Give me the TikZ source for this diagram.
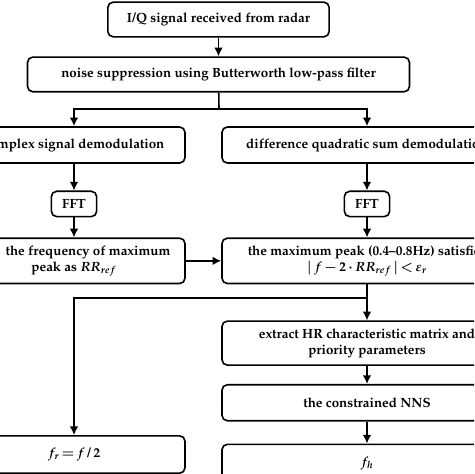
\documentclass[tikz,border=0pt]{standalone}
\usepackage[T1]{fontenc}
\usepackage{amsmath}
\usepackage{mathpazo}
\usetikzlibrary{arrows.meta,positioning}
\tikzset{step box/.style={rectangle,rounded corners=4pt,draw=black,fill=white,line width=1.2pt,align=center,font=\bfseries\boldmath,inner sep=2pt}}
\tikzset{wideBox/.style={step box,minimum width=217.5pt}}
\tikzset{leftBox/.style={step box,minimum width=166.5pt}}
\tikzset{fftBox/.style={step box,minimum width=34pt,minimum height=19pt}}
\tikzset{toArrow/.style={-{Latex[length=6.5pt,width=6.5pt]},line width=1.2pt}}

\begin{document}
\begin{tikzpicture}[x=0.75pt,y=-0.75pt]
\useasboundingbox (0,0) rectangle (474,474);
\clip (0,0) rectangle (474,474);
\begin{scope}[node distance=14pt]
	\node (radar) [step box, minimum width=166pt, minimum height=26pt] at (218.5,19.5) {I/Q signal received from radar} ;
	\node (filter) [step box, minimum width=286.5pt, minimum height=26pt, below =of radar] {noise suppression using Butterworth low-pass filter} ;
	\draw [toArrow] (radar) -- (filter) ;
	\coordinate (split) at (219,109) ;
	% left column
	\node (demodL) [leftBox, minimum height=27pt] at (74,145) {complex signal demodulation} ;
	\node (fftL) [fftBox, below =20pt of demodL] {FFT} ;
	\node (peakL) [leftBox, minimum height=34pt, below =15pt of fftL] {\hspace*{21pt}the frequency of maximum\\peak as $RR_{ref}$} ;
	\node (fr) [leftBox, minimum height=28pt] at (74,454.5) {$f_r\,{=}\,f\,/\,2$} ;
	% right column
	\node (demodR) [wideBox, minimum height=27pt] at (367,145) {difference quadratic sum demodulation} ;
	\node (fftR) [fftBox, below =20pt of demodR] {FFT} ;
	\node (peakR) [wideBox, minimum height=34pt, below =15pt of fftR] {the maximum peak (0.4--0.8Hz) satisfies\\$\lvert\,f\,{-}\,2\,{\cdot}\,RR_{ref}\,\rvert\,{<}\,\varepsilon_r$} ;
	\node (matrix) [wideBox, minimum height=33pt, below =27pt of peakR] {extract HR characteristic matrix and\\priority parameters} ;
	\node (nns) [wideBox, minimum height=27pt, below =13.5pt of matrix] {the constrained NNS} ;
	\node (fh) [wideBox, minimum height=28pt, below =16.5pt of nns] {$f_h$} ;
	\coordinate (branch) at (367,298) ;
	% connectors
	\draw [line width=1.2pt] (filter) -- (split) ;
	\draw [toArrow] (split) -| (demodL) ;
	\draw [toArrow] (split) -| (demodR) ;
	\draw [toArrow] (demodL) -- (fftL) ;
	\draw [toArrow] (fftL) -- (peakL) ;
	\draw [toArrow] (demodR) -- (fftR) ;
	\draw [toArrow] (fftR) -- (peakR) ;
	\draw [toArrow] (peakL) -- (peakR) ;
	\draw [toArrow] (peakR) -- (matrix) ;
	\draw [toArrow] (branch) -| (fr) ;
	\draw [toArrow] (matrix) -- (nns) ;
	\draw [toArrow] (nns) -- (fh) ;
\end{scope}
\end{tikzpicture}
\end{document}
